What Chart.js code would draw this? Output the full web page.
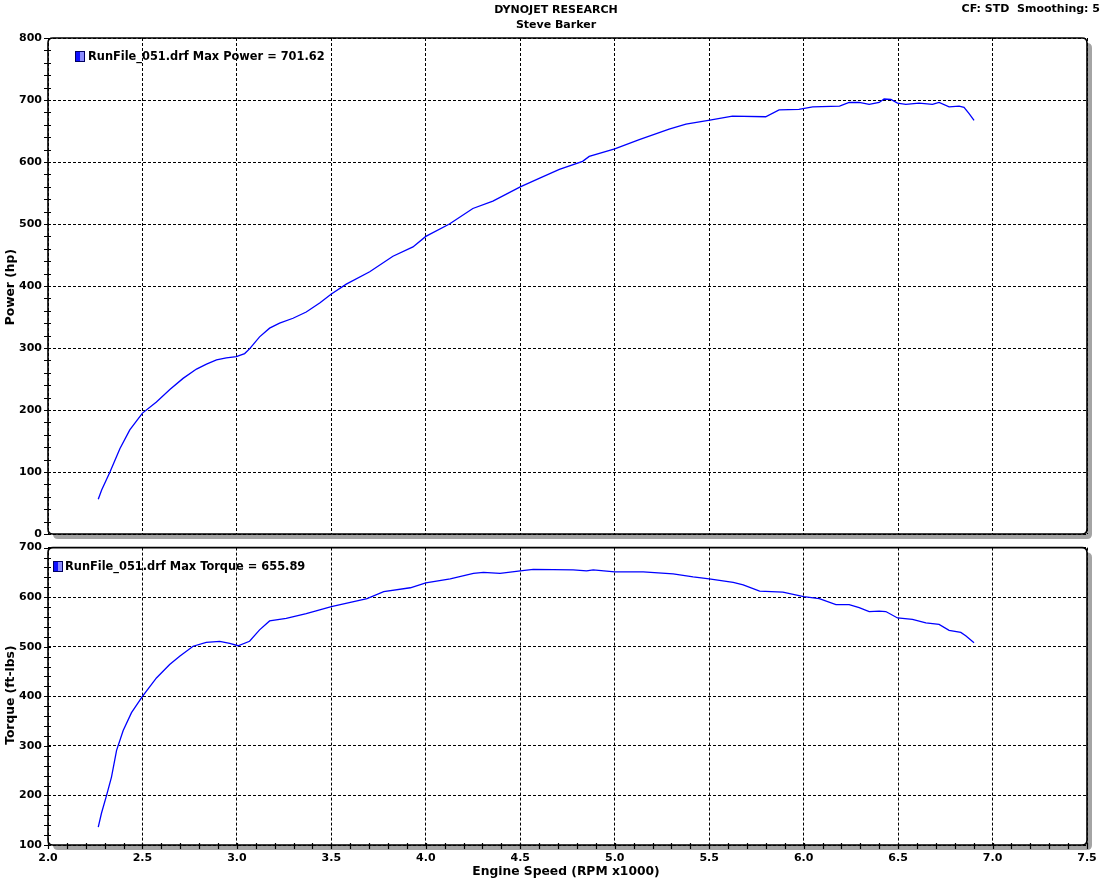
<!DOCTYPE html>
<html>
<head>
<meta charset="utf-8">
<script src="https://cdn.jsdelivr.net/npm/chart.js@4.4.1/dist/chart.umd.min.js"></script>
<style>
  html, body { margin:0; padding:0; background:#fff; }
  body { width:1111px; height:879px; position:relative; overflow:hidden;
         font-family:"DejaVu Sans", Verdana, sans-serif; font-weight:bold; font-size:11px; color:#000; }
  canvas { position:absolute; left:0; }
  .txt { position:absolute; white-space:pre; line-height:1; }
  .leg { font-size:11.4px; }
  .ax { font-size:12.3px; }
  .box { position:absolute; width:8px; height:9px; border:1px solid #000060;
         background:linear-gradient(to right, #1010ff 0%, #1010ff 50%, #8c8cff 50%, #8c8cff 100%); }
</style>
</head>
<body>
<canvas id="cTop" width="1111" height="548" style="top:0;width:1111px;height:548px"></canvas>
<canvas id="cBot" width="1111" height="344" style="top:535px;width:1111px;height:344px"></canvas>

<div class="txt" style="left:456px;width:200px;text-align:center;top:4px">DYNOJET RESEARCH</div>
<div class="txt" style="left:456px;width:200px;text-align:center;top:19px">Steve Barker</div>
<div class="txt" style="right:11px;top:3px">CF: STD  Smoothing: 5</div>

<div class="box" style="left:75px;top:51px"></div>
<div class="txt leg" style="left:88px;top:51px">RunFile_051.drf Max Power = 701.62</div>
<div class="box" style="left:53px;top:561px"></div>
<div class="txt leg" style="left:65px;top:561px">RunFile_051.drf Max Torque = 655.89</div>

<div class="txt ax" style="left:-40px;width:100px;text-align:center;top:281px;transform:rotate(-90deg)">Power (hp)</div>
<div class="txt ax" style="left:-40px;width:100px;text-align:center;top:689px;transform:rotate(-90deg)">Torque (ft-lbs)</div>
<div class="txt ax" style="left:416px;width:300px;text-align:center;top:865px">Engine Speed (RPM x1000)</div>

<script>
// ---- data ----
const powerRpm = [2.266, 2.284, 2.328, 2.381, 2.433, 2.5, 2.574, 2.645, 2.715, 2.786, 2.839, 2.892, 2.944, 2.997,
  3.041, 3.068, 3.12, 3.173, 3.226, 3.297, 3.367, 3.44, 3.5, 3.579, 3.703, 3.826, 3.932, 4.0, 4.125, 4.249,
  4.355, 4.5, 4.603, 4.707, 4.83, 4.865, 5.0, 5.13, 5.288, 5.377, 5.496, 5.623, 5.799, 5.87, 5.975, 6.048,
  6.19, 6.241, 6.294, 6.347, 6.4, 6.426, 6.462, 6.497, 6.541, 6.611, 6.682, 6.717, 6.77, 6.823, 6.849, 6.876, 6.902];
const powerHp = [56, 71, 100, 138, 168, 195, 213, 233, 251, 266, 274, 281, 284, 286,
  291, 299, 318, 332, 340, 348, 358, 373, 387, 403, 423, 448, 463, 480, 500, 525,
  537, 560, 574, 588, 601, 609, 621, 636, 653, 661, 667, 674, 673, 684, 685, 689,
  690, 696, 696, 693, 696, 701.6, 701, 695, 693, 695, 693, 696, 689, 690, 688, 678, 667];

const torqueRpm = [2.266, 2.283, 2.31, 2.336, 2.363, 2.398, 2.442, 2.5, 2.574, 2.644, 2.697, 2.768, 2.838, 2.909,
  2.962, 3.006, 3.067, 3.12, 3.173, 3.261, 3.367, 3.5, 3.689, 3.777, 3.918, 4.0, 4.129, 4.252, 4.305, 4.393,
  4.5, 4.569, 4.78, 4.851, 4.886, 5.0, 5.151, 5.309, 5.415, 5.5, 5.627, 5.68, 5.767, 5.89, 6.0, 6.083,
  6.171, 6.241, 6.294, 6.347, 6.4, 6.435, 6.497, 6.576, 6.647, 6.717, 6.77, 6.832, 6.858, 6.902];
const torqueFtLb = [136, 164, 200, 237, 291, 331, 367, 400, 437, 464, 481, 501, 509, 511,
  507, 502, 511, 534, 552, 557, 567, 581, 597, 611, 619, 629, 637, 648, 650, 648,
  653, 655.9, 655, 653, 655, 651, 651, 647, 641, 637, 630, 625, 612, 610, 601, 597,
  585, 585, 579, 571, 572, 571, 558, 555, 548, 545, 533, 529, 522, 508];

const rpmRange = [2.0, 7.5];
const rpmStep = 0.5;
const rpmMinorStep = 0.1;
const powerRange = [0, 800];
const torqueRange = [100, 700];
const yStep = 100;
const yMinorStep = 20;

// ---- drawing ----
const FONT = { family: '"DejaVu Sans", Verdana, sans-serif', size: 11, weight: 'bold' };
const DASH = [3, 2];

function rr(ctx, x, y, w, h, r) {
  ctx.beginPath();
  ctx.moveTo(x + r, y);
  ctx.lineTo(x + w - r, y); ctx.quadraticCurveTo(x + w, y, x + w, y + r);
  ctx.lineTo(x + w, y + h - r); ctx.quadraticCurveTo(x + w, y + h, x + w - r, y + h);
  ctx.lineTo(x + r, y + h); ctx.quadraticCurveTo(x, y + h, x, y + h - r);
  ctx.lineTo(x, y + r); ctx.quadraticCurveTo(x, y, x + r, y);
  ctx.closePath();
}

function framePlugin(withXTicks) {
  return {
    id: 'frame',
    beforeDraw(chart) {
      const { ctx, chartArea: a } = chart;
      const w = a.right - a.left, h = a.bottom - a.top;
      ctx.save();
      ctx.fillStyle = '#a4a4a4';
      rr(ctx, a.left + 5, a.top + 5, w, h, 5); ctx.fill();
      ctx.fillStyle = '#ffffff';
      rr(ctx, a.left, a.top, w, h, 5); ctx.fill();
      ctx.restore();
    },
    afterDraw(chart) {
      const { ctx, chartArea: a, scales } = chart;
      const w = a.right - a.left, h = a.bottom - a.top;
      ctx.save();
      ctx.strokeStyle = '#000';
      ctx.lineWidth = 1.6;
      rr(ctx, a.left, a.top, w, h, 5); ctx.stroke();
      ctx.lineWidth = 1.2;
      const ys = scales.y;
      ctx.beginPath();
      for (let v = ys.min; v <= ys.max + 1e-6; v += yMinorStep) {
        const p = Math.round(ys.getPixelForValue(v)) + 0.5;
        ctx.moveTo(a.left - 4, p); ctx.lineTo(a.left + 3, p);
      }
      if (withXTicks) {
        const xs = scales.x;
        const n = Math.round((xs.max - xs.min) / rpmMinorStep);
        for (let i = 0; i <= n; i++) {
          const p = Math.round(xs.getPixelForValue(xs.min + i * rpmMinorStep)) + 0.5;
          ctx.moveTo(p, a.bottom - 2); ctx.lineTo(p, a.bottom + 4);
        }
      }
      ctx.stroke();
      ctx.restore();
    }
  };
}

function makeChart(id, rpm, vals, yRange, pad, showX) {
  return new Chart(document.getElementById(id), {
    type: 'line',
    data: {
      datasets: [{
        data: rpm.map((x, i) => ({ x: x, y: vals[i] })),
        borderColor: '#0000ff',
        borderWidth: 1.3,
        pointRadius: 0,
        tension: 0,
        fill: false
      }]
    },
    options: {
      responsive: false,
      maintainAspectRatio: false,
      animation: false,
      events: [],
      layout: { padding: pad },
      plugins: { legend: { display: false }, tooltip: { enabled: false }, title: { display: false } },
      scales: {
        x: {
          type: 'linear',
          min: rpmRange[0], max: rpmRange[1],
          ticks: {
            display: showX, stepSize: rpmStep, color: '#000', font: FONT, padding: 7,
            maxRotation: 0, autoSkip: false,
            callback: v => Number(v).toFixed(1)
          },
          grid: { color: '#000', lineWidth: 1, drawTicks: false, borderDash: DASH },
          border: { display: false, dash: DASH },
          afterFit(s) { s.height = showX ? 34 : 0; }
        },
        y: {
          min: yRange[0], max: yRange[1],
          ticks: { stepSize: yStep, color: '#000', font: FONT, padding: 6, autoSkip: false },
          grid: { color: '#000', lineWidth: 1, drawTicks: false, borderDash: DASH },
          border: { display: false, dash: DASH },
          afterFit(s) { s.width = 48; }
        }
      }
    },
    plugins: [framePlugin(showX)]
  });
}

makeChart('cTop', powerRpm, powerHp, powerRange, { top: 38, right: 24, bottom: 14, left: 0 }, false);
makeChart('cBot', torqueRpm, torqueFtLb, torqueRange, { top: 10.5, right: 24, bottom: 0, left: 0 }, true);
</script>
</body>
</html>
